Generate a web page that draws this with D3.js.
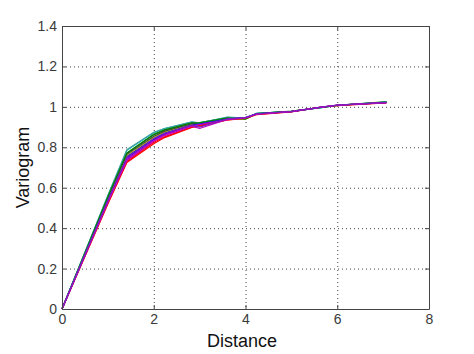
<!DOCTYPE html>
<html>
<head>
<meta charset="UTF-8">
<title>variogram</title>
<style>
    body { margin: 0; background: #fff; }
    svg { display: block; }
    .axis text { font-family: "Liberation Sans", Arial, sans-serif; font-size: 14px; fill: #3a3a3a; }
    .axis path, .axis line { stroke: #444; }
    .grid line { stroke: #444; stroke-dasharray: 1,3; }
    .label { font-family: "Liberation Sans", Arial, sans-serif; font-size: 18px; fill: #111; }
</style>
</head>
<body>
<script src="https://cdn.jsdelivr.net/npm/d3@7"></script>
<script>
    // lag distances
    var lags = [0, 1, 1.414, 2, 2.236, 2.828, 3, 3.606, 4, 4.243, 5, 5.657, 6, 7.071];

    // one variogram per realisation
    var v1  = [0, 0.540, 0.755, 0.845, 0.872, 0.912, 0.918, 0.940, 0.945, 0.966, 0.976, 0.998, 1.008, 1.022];
    var v2  = [0, 0.550, 0.770, 0.862, 0.885, 0.920, 0.922, 0.945, 0.940, 0.967, 0.978, 0.997, 1.007, 1.024];
    var v3  = [0, 0.520, 0.725, 0.818, 0.848, 0.898, 0.908, 0.935, 0.942, 0.962, 0.975, 0.999, 1.006, 1.020];
    var v4  = [0, 0.560, 0.785, 0.872, 0.892, 0.925, 0.920, 0.948, 0.944, 0.968, 0.978, 0.996, 1.008, 1.025];
    var v5  = [0, 0.530, 0.735, 0.830, 0.858, 0.905, 0.893, 0.938, 0.946, 0.964, 0.977, 0.999, 1.009, 1.021];
    var v6  = [0, 0.545, 0.760, 0.850, 0.876, 0.915, 0.917, 0.942, 0.941, 0.966, 0.977, 0.998, 1.007, 1.026];
    var v7  = [0, 0.550, 0.765, 0.855, 0.880, 0.917, 0.919, 0.944, 0.943, 0.967, 0.978, 0.998, 1.008, 1.023];
    var v8  = [0, 0.535, 0.745, 0.838, 0.865, 0.908, 0.915, 0.939, 0.947, 0.965, 0.976, 0.999, 1.008, 1.021];
    var v9  = [0, 0.555, 0.772, 0.864, 0.886, 0.921, 0.921, 0.946, 0.939, 0.967, 0.979, 0.997, 1.007, 1.024];
    var v10 = [0, 0.525, 0.730, 0.825, 0.852, 0.900, 0.905, 0.936, 0.944, 0.963, 0.976, 0.999, 1.007, 1.021];
    var v11 = [0, 0.538, 0.750, 0.842, 0.869, 0.910, 0.900, 0.941, 0.948, 0.966, 0.977, 0.999, 1.009, 1.022];
    var v12 = [0, 0.528, 0.740, 0.834, 0.862, 0.906, 0.912, 0.937, 0.945, 0.964, 0.976, 0.999, 1.008, 1.021];
    var v13 = [0, 0.562, 0.788, 0.874, 0.893, 0.926, 0.921, 0.949, 0.944, 0.968, 0.978, 0.996, 1.008, 1.025];

    var series = [v1, v2, v3, v6, v7, v4, v13, v9, v8, v10, v12, v5, v11];
    var colors = ["#0000ff", "#008000", "#ff0000", "#bfbf00", "#404040", "#00bfbf", "#3fa0a0",
                  "#008000", "#0000ff", "#ff0000", "#bf00bf", "#bf00bf", "#7a1fc0"];

    var xTicks = [0, 2, 4, 6, 8];
    var yTicks = [0, 0.2, 0.4, 0.6, 0.8, 1, 1.2, 1.4];

    var width = 474, height = 354,
        plotLeft = 62, plotRight = 429, plotTop = 26, plotBottom = 309;

    var x = d3.scaleLinear().domain([0, 8]).range([plotLeft, plotRight]),
        y = d3.scaleLinear().domain([0, 1.4]).range([plotBottom, plotTop]);

    var svg = d3.select("body").append("svg")
        .attr("width", width)
        .attr("height", height);

    // dotted grid
    var grid = svg.append("g").attr("class", "grid");
    grid.selectAll("line.gx")
        .data(xTicks.slice(1, -1))
      .enter().append("line")
        .attr("class", "gx")
        .attr("x1", function(d){ return x(d) + 0.5; })
        .attr("x2", function(d){ return x(d) + 0.5; })
        .attr("y1", plotTop).attr("y2", plotBottom);
    grid.selectAll("line.gy")
        .data(yTicks.slice(1, -1))
      .enter().append("line")
        .attr("class", "gy")
        .attr("y1", function(d){ return y(d) + 0.5; })
        .attr("y2", function(d){ return y(d) + 0.5; })
        .attr("x1", plotLeft).attr("x2", plotRight);

    // variogram lines
    var line = d3.line()
        .x(function(d, i){ return x(lags[i]); })
        .y(function(d){ return y(d); });

    svg.append("g").selectAll("path")
        .data(series)
      .enter().append("path")
        .attr("d", line)
        .attr("fill", "none")
        .attr("stroke", function(d, i){ return colors[i]; })
        .attr("stroke-width", 1.2);

    // axes, ticks pointing inward like matlab
    svg.append("g")
        .attr("class", "axis")
        .attr("transform", "translate(0," + plotBottom + ")")
        .call(d3.axisBottom(x).tickValues(xTicks).tickSize(-4).tickPadding(5).tickSizeOuter(0)
            .tickFormat(d3.format("d")));
    svg.append("g")
        .attr("class", "axis")
        .attr("transform", "translate(0," + plotTop + ")")
        .call(d3.axisTop(x).tickValues(xTicks).tickSize(-4).tickSizeOuter(0).tickFormat(""));
    svg.append("g")
        .attr("class", "axis")
        .attr("transform", "translate(" + plotLeft + ",0)")
        .call(d3.axisLeft(y).tickValues(yTicks).tickSize(-4).tickPadding(5).tickSizeOuter(0)
            .tickFormat(function(d){ return String(+d.toFixed(1)); }));
    svg.append("g")
        .attr("class", "axis")
        .attr("transform", "translate(" + plotRight + ",0)")
        .call(d3.axisRight(y).tickValues(yTicks).tickSize(-4).tickSizeOuter(0).tickFormat(""));

    // axis titles
    svg.append("text")
        .attr("class", "label")
        .attr("x", 242)
        .attr("y", 347)
        .attr("text-anchor", "middle")
        .text("Distance");
    svg.append("text")
        .attr("class", "label")
        .attr("transform", "translate(29," + (plotTop + plotBottom) / 2 + ") rotate(-90)")
        .attr("text-anchor", "middle")
        .text("Variogram");
</script>
</body>
</html>
